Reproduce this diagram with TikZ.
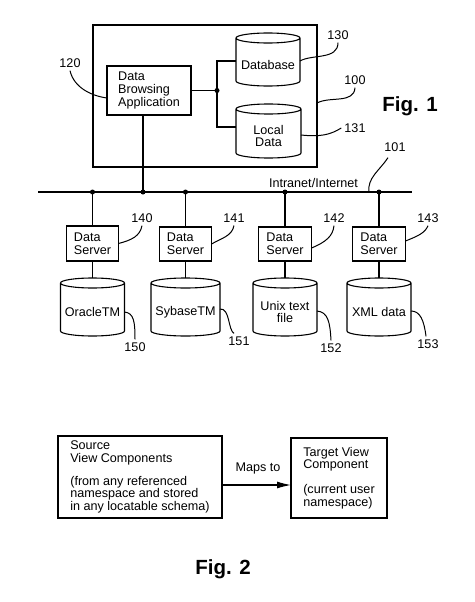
\documentclass[tikz,border=0pt]{standalone}
\usepackage{fontspec}
\setmainfont{Liberation Sans}
\usetikzlibrary{arrows.meta}
\newcommand\lab{\fontsize{12.6}{12.6}\selectfont}
\newcommand\figfont{\fontsize{20.5}{24}\selectfont\bfseries}
\tikzset{
  ln/.style={line width=1.1pt},
  box/.style={draw, line width=1.1pt, inner sep=0pt, outer sep=0pt, align=left, font=\lab},
  cyltext/.style={inner sep=0pt, outer sep=0pt, align=center, font=\lab},
  num/.style={inner sep=3pt, font=\lab},
  lead/.style={line width=1pt},
  dot/.style={fill=black},
  figlab/.style={font=\figfont, inner sep=0pt},
}
\newcommand\cyl[6]{%
  \node[cyltext, minimum width=#4pt, minimum height=#5pt] (#1) at (#2,#3) {#6};
  \draw[ln] ([yshift=5pt]#1.north west) -- ([yshift=5pt]#1.south west)
    arc[start angle=180, end angle=360, x radius=#4pt/2, y radius=5pt]
    -- ([yshift=5pt]#1.north east)
    arc[start angle=0, end angle=360, x radius=#4pt/2, y radius=5pt];
}
\begin{document}
\begin{tikzpicture}[x=1pt, y=-1pt]
\useasboundingbox (0,0) rectangle (474,602);
\fill[white] (0,0) rectangle (474,602);

% ---------- Fig. 1 ----------
\node[box, minimum width=224pt, minimum height=142pt] (sys) at (205,96) {};
\node[box, minimum width=84pt, minimum height=49pt] (app) at (149,90.5) {Data\\Browsing\\Application};
\cyl{db}{268}{64.5}{64}{43}{Database}
\cyl{ld}{268.5}{136}{65}{44}{Local\\Data}

\coordinate (j) at (217,90.5);
\draw[ln] (app.east) -- (j);
\draw[ln] (j) |- ([yshift=3.5pt]db.west);
\draw[ln] (j) |- ([yshift=9pt]ld.west);
\fill[dot] (j) circle[radius=2.5pt];

% bus
\coordinate (busL) at (38,192);
\coordinate (busR) at (412,192);
\coordinate (b1) at (92.5,192);
\coordinate (b2) at (143,192);
\coordinate (b3) at (185.5,192);
\coordinate (b4) at (285,192);
\coordinate (b5) at (379,192);
\coordinate (t101) at (369,192);
\draw[ln] (busL) -- (busR);
\draw[ln] (app.south -| b2) -- (b2);
\foreach \b in {b1,b2,b3,b4,b5} \fill[dot] (\b) circle[radius=2.5pt];
\node[num] (net) at (313.5,183) {Intranet/Internet};

% servers
\node[box, minimum width=52pt, minimum height=35pt] (s140) at (92.5,243.5) {Data\\Server};
\node[box, minimum width=52pt, minimum height=34pt] (s141) at (185.5,244) {Data\\Server};
\node[box, minimum width=53pt, minimum height=34pt] (s142) at (285,244) {Data\\Server};
\node[box, minimum width=53pt, minimum height=34pt] (s143) at (379,244) {Data\\Server};
\foreach \b/\s in {b1/s140,b3/s141,b4/s142,b5/s143} \draw[ln] (\b) -- (\s.north);

% data stores
\cyl{c150}{92.5}{312}{64}{48}{OracleTM}
\cyl{c151}{185.5}{312}{69}{48}{SybaseTM}
\cyl{c152}{285}{312}{64}{48}{Unix text\\file}
\cyl{c153}{379}{312}{64}{48}{XML data}
\foreach \s/\c in {s140/c150,s141/c151,s142/c152,s143/c153} \draw[ln] (\s.south) -- ([yshift=10pt]\c.north);

% reference numerals
\node[num] (l120) at (70,63) {120};
\node[num] (l130) at (338,35) {130};
\node[num] (l100) at (355,80) {100};
\node[num] (l131) at (355,128) {131};
\node[num] (l101) at (395,147) {101};
\node[num] (l140) at (142,218) {140};
\node[num] (l141) at (234,218) {141};
\node[num] (l142) at (334,218) {142};
\node[num] (l143) at (428,218) {143};
\node[num] (l150) at (135,347) {150};
\node[num] (l151) at (239,341) {151};
\node[num] (l152) at (331,348) {152};
\node[num] (l153) at (428,344) {153};

\draw[lead] ([yshift=-7.5pt]app.west) .. controls (92,96) and (74,88) .. (l120.south);
\draw[lead] ([yshift=3.5pt]db.east) .. controls (312,54) and (338,60) .. (l130.south);
\draw[lead] ([yshift=-7pt]sys.east) .. controls (330,96) and (354,104) .. (l100.south);
\draw[lead] ([yshift=1pt]ld.east) .. controls (320,137) and (330,135) .. (l131.west);
\draw[lead] (t101) .. controls (367,178) and (380,170) .. ([xshift=-7pt,yshift=-3pt]l101.south);
\draw[lead] (s140.east) .. controls (132,240) and (140,236) .. (l140.south);
\draw[lead] (s141.east) .. controls (222,238) and (232,236) .. (l141.south);
\draw[lead] ([yshift=-4pt]s142.east) .. controls (326,242) and (333,236) .. (l142.south);
\draw[lead] ([yshift=3pt]s143.east) .. controls (418,236) and (425,233) .. (l143.south);
\draw[lead] (c150.east) .. controls (134,313) and (135,322) .. (l150.north);
\draw[lead] ([yshift=3pt]c151.east) .. controls (230,308) and (228,330) .. ([xshift=-5pt]l151.north);
\draw[lead] ([yshift=1pt]c152.east) .. controls (328,312) and (330,322) .. (l152.north);
\draw[lead] ([yshift=1pt]c153.east) .. controls (420,311) and (424,320) .. ([xshift=-2pt]l153.north);

\node[figlab] (fig1) at (410,106) {Fig. 1};

% ---------- Fig. 2 ----------
\node[box, minimum width=164pt, minimum height=82pt] (src) at (140,477)
  {Source\\View Components\\[10pt](from any referenced\\namespace and stored\\in any locatable schema)};
\node[box, minimum width=96pt, minimum height=80pt] (tgt) at (339,478)
  {Target View\\Component\\[12pt](current user\\namespace)};
\coordinate (a1) at ([yshift=-8pt]src.east);
\draw[ln, -{Latex[length=14pt,width=7pt]}] (a1) -- (a1 -| tgt.west);
\node[num] (maps) at (258,468) {Maps to};

\node[figlab] (fig2) at (223,569) {Fig. 2};
\end{tikzpicture}
\end{document}
